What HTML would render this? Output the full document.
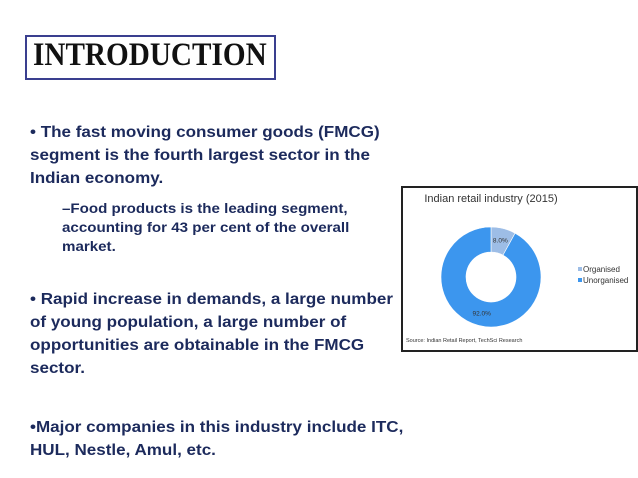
<!DOCTYPE html>
<html><head><meta charset="utf-8"><style>
body{margin:0;width:638px;height:478px;background:#fff;position:relative;overflow:hidden;font-family:"Liberation Sans",sans-serif}
.l{position:absolute;white-space:nowrap;color:#1c2a5c;font-weight:bold}
.m{font-size:16px;left:30px;transform-origin:0 0;transform:scaleX(1.065)}
.s{font-size:14px;left:62px;transform-origin:0 0;transform:scaleX(1.08)}
</style></head><body>
<div style="position:absolute;left:25px;top:35px;width:251px;height:45px;border:2px solid #3a3f8f;box-sizing:border-box"></div>
<div style="position:absolute;left:33px;top:37px;font-family:'Liberation Serif',serif;font-weight:bold;font-size:33px;color:#111;white-space:nowrap;transform-origin:0 0;transform:scaleX(0.885)">INTRODUCTION</div>
<div>
<div class="l m" style="top:124px">• The fast moving consumer goods (FMCG)</div>
<div class="l m" style="top:147px">segment is the fourth largest sector in the</div>
<div class="l m" style="top:170px">Indian economy.</div></div>
<div>
<div class="l s" style="top:200px">–Food products is the leading segment,</div>
<div class="l s" style="top:219px">accounting for 43 per cent of the overall</div>
<div class="l s" style="top:238px">market.</div></div>
<div>
<div class="l m" style="top:291px">• Rapid increase in demands, a large number</div>
<div class="l m" style="top:314px">of young population, a large number of</div>
<div class="l m" style="top:337px">opportunities are obtainable in the FMCG</div>
<div class="l m" style="top:360px">sector.</div></div>
<div>
<div class="l m" style="top:419px">•Major companies in this industry include ITC,</div>
<div class="l m" style="top:442px">HUL, Nestle, Amul, etc.</div></div>
<svg id="chart" style="position:absolute;left:401px;top:186px" width="237" height="166">
<rect x="1" y="1" width="235" height="164" fill="#fff" stroke="#222" stroke-width="2"/>
<text x="90" y="16" text-anchor="middle" font-size="11" fill="#333" font-family="Liberation Sans">Indian retail industry (2015)</text>
<text x="5" y="156" font-size="5.5" fill="#333" font-family="Liberation Sans">Source: Indian Retail Report, TechSci Research</text>
</svg>
<script>
const categories=["Organised","Unorganised"];
const values=[8.0,92.0];
const labels=["8.0%","92.0%"];
const colors=["#9dbde6","#3c96ee"];
const svg=document.getElementById('chart');
const NS="http://www.w3.org/2000/svg";
const cx=90,cy=91,R=50,r=25;
const total=values.reduce((a,b)=>a+b,0);
function pt(rad,a){return [cx+rad*Math.sin(a),cy-rad*Math.cos(a)];}
let a0=0;
values.forEach((v,i)=>{
 const a1=a0+v/total*2*Math.PI;
 const large=(a1-a0)>Math.PI?1:0;
 const [x0,y0]=pt(R,a0),[x1,y1]=pt(R,a1),[x2,y2]=pt(r,a1),[x3,y3]=pt(r,a0);
 const p=document.createElementNS(NS,'path');
 p.setAttribute('d',`M${x0} ${y0}A${R} ${R} 0 ${large} 1 ${x1} ${y1}L${x2} ${y2}A${r} ${r} 0 ${large} 0 ${x3} ${y3}Z`);
 p.setAttribute('fill',colors[i]);p.setAttribute('stroke','#fff');p.setAttribute('stroke-width','0.6');
 
 
 svg.appendChild(p);
 const mid=(a0+a1)/2;const [lx,ly]=pt((R+r)/2,mid);
 const t=document.createElementNS(NS,'text');
 t.setAttribute('x',lx);t.setAttribute('y',ly+2);t.setAttribute('text-anchor','middle');
 t.setAttribute('font-size','6.5');t.setAttribute('fill','#333');t.setAttribute('font-family','Liberation Sans');
 t.textContent=labels[i];
 
 
 svg.appendChild(t);
 const ly2=86+i*11;
 const sq=document.createElementNS(NS,'rect');
 sq.setAttribute('x',177);sq.setAttribute('y',ly2-5);sq.setAttribute('width',4);sq.setAttribute('height',4);sq.setAttribute('fill',colors[i]);
 
 
 svg.appendChild(sq);
 const lt=document.createElementNS(NS,'text');
 lt.setAttribute('x',182);lt.setAttribute('y',ly2);lt.setAttribute('font-size','8');lt.setAttribute('fill','#333');lt.setAttribute('font-family','Liberation Sans');
 lt.textContent=categories[i];
 
 
 svg.appendChild(lt);
 a0=a1;
});
</script>
</body></html>
